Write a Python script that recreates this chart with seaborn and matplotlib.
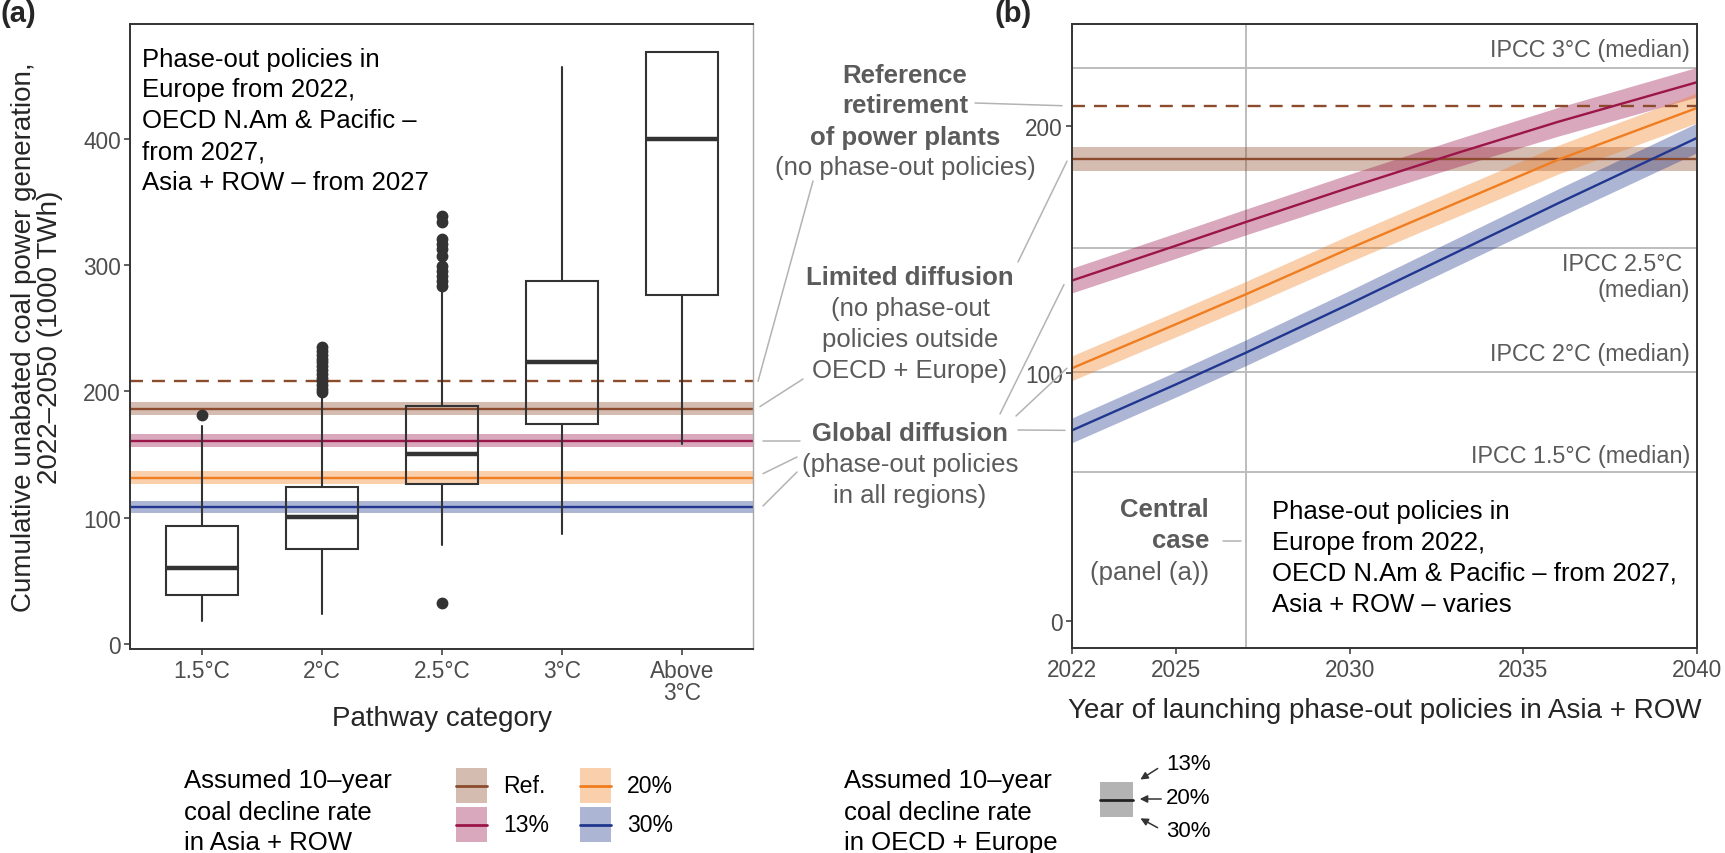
import numpy as np
import pandas as pd
import matplotlib
matplotlib.use("Agg")
import matplotlib.pyplot as plt
import seaborn as sns
from matplotlib.lines import Line2D
from matplotlib.patches import Rectangle, FancyArrowPatch

# ------------------------------------------------------------------ data
categories = ["1.5°C", "2°C", "2.5°C", "3°C", "Above\n3°C"]
box_whislo = [18.5, 23.8, 78.4, 87.0, 158.4]
box_q1 = [38.8, 75.2, 126.7, 174.3, 276.4]
box_med = [60.2, 100.3, 150.5, 223.1, 400.0]
box_q3 = [93.7, 124.1, 188.8, 287.8, 469.2]
box_whishi = [172.9, 196.5, 279.0, 456.8, 469.2]
outliers_15 = [181.6]
outliers_20 = [199.5, 202.0, 205.0, 208.0, 211.0, 214.0, 217.0, 220.0,
               223.0, 226.0, 229.0, 232.0, 235.5]
outliers_25 = [32.5, 283.8, 287.8, 291.8, 295.7, 299.7, 307.6, 312.9,
               316.8, 320.8, 334.5, 339.2]
outliers_30 = []
outliers_above = []

rate_labels = ["Ref.", "13%", "20%", "30%"]
central_value = [186.4, 161.1, 131.7, 108.5]   # panel (a), launch 2027
central_halfwidth = [4.9, 4.9, 4.9, 5.0]
ref_retirement = 208.0

years = [2022, 2025, 2027, 2030, 2033, 2036, 2040]
path_13 = [137.4, 151.5, 161.0, 175.0, 188.5, 201.5, 217.5]
path_20 = [102.0, 119.8, 131.8, 150.4, 168.3, 186.2, 207.1]
path_30 = [76.9, 95.5, 108.2, 128.0, 148.3, 168.6, 195.0]
path_halfwidth = [5.0, 5.1, 5.2, 5.4, 5.6, 5.8, 6.0]
central_year = 2027
ipcc_labels = ["IPCC 1.5°C (median)", "IPCC 2°C (median)",
               "IPCC 2.5°C\n(median)", "IPCC 3°C (median)"]

# ------------------------------------------------------------------ style
sns.set_theme(style="white")
plt.rcParams["font.family"] = ["Liberation Sans", "DejaVu Sans"]

rate_colors = ["#8c4b2c", "#9b1549", "#f07d1f", "#21378f"]
band_alpha = 0.37
dark = "#333333"
grey_txt = "#5b5b5b"
tick_col = "#4d4d4d"
conn_col = "#b3b3b3"
ref_line_col = "#bdbdbd"

W, H = 1725, 854
fig = plt.figure(figsize=(W / 100, H / 100), dpi=100)


def fax(l, t, r, b):
    return fig.add_axes([l / W, 1 - b / H, (r - l) / W, (b - t) / H])


def ftext(x, y, s, **kw):
    return fig.text(x / W, 1 - y / H, s, **kw)


def fline(x1, y1, x2, y2, **kw):
    fig.add_artist(Line2D([x1 / W, x2 / W], [1 - y1 / H, 1 - y2 / H],
                          transform=fig.transFigure, **kw))


def unit_spacing(l1, l2, size):
    """Pixel distance between baselines of two lines at linespacing 1."""
    r = fig.canvas.get_renderer()
    t1 = fig.text(0, 0, l1, fontsize=size)
    t2 = fig.text(0, 0, l1 + "\n" + l2, fontsize=size, linespacing=1.0)
    d = t2.get_window_extent(r).height - t1.get_window_extent(r).height
    t1.remove()
    t2.remove()
    return d


axa = fax(130, 25, 753, 650)
axb = fax(1072, 25, 1697, 649)

# ------------------------------------------------------------------ panel (a)
axa.set_xlim(-0.6, 4.59)
axa.set_ylim(-4, 491)
for val, hw, col in zip(central_value, central_halfwidth, rate_colors):
    axa.axhspan(val - hw, val + hw, color=col, alpha=band_alpha, lw=0, zorder=1)
    axa.axhline(val, color=col, lw=1.7, zorder=2)
axa.axhline(ref_retirement, color=rate_colors[0], lw=1.7, dashes=(5.5, 3.8), zorder=2)

fliers = [outliers_15, outliers_20, outliers_25, outliers_30, outliers_above]
stats = [dict(whislo=a, q1=b, med=c, q3=d, whishi=e, fliers=f, label=l)
         for a, b, c, d, e, f, l in zip(box_whislo, box_q1, box_med, box_q3,
                                         box_whishi, fliers, categories)]
axa.bxp(stats, positions=list(range(len(categories))), widths=0.6,
        showcaps=False, patch_artist=True, manage_ticks=False,
        boxprops=dict(facecolor="none", edgecolor=dark, linewidth=1.5),
        whiskerprops=dict(color=dark, linewidth=1.5),
        medianprops=dict(color=dark, linewidth=3.2),
        flierprops=dict(marker="o", markerfacecolor=dark, markeredgecolor=dark,
                        markersize=7.5),
        zorder=3)

tick_ls = 21.7 / unit_spacing("Above", "3°C", 16.3)
ylab_lines = ["Cumulative unabated coal power generation,", "2022\u20132050 (1000 TWh)"]
ylab_ls = 26.5 / unit_spacing(ylab_lines[0], ylab_lines[1], 20)

axa.set_xticks(range(len(categories)))
axa.set_xticklabels(categories, linespacing=tick_ls)
axa.set_yticks([0, 100, 200, 300, 400])
axa.set_xlabel("Pathway category", fontsize=20, labelpad=0.5)
axa.set_ylabel("\n".join(ylab_lines), fontsize=20, linespacing=ylab_ls)
axa.yaxis.set_label_coords((63.3 - 130) / 623, 0.5)

# ------------------------------------------------------------------ panel (b)
axb.set_xlim(2022, 2040)
axb.set_ylim(-11, 241)
for m in box_med[:4]:
    axb.axhline(m, color=ref_line_col, lw=1.4, zorder=0.5)
axb.axvline(central_year, color=ref_line_col, lw=1.4, zorder=0.5)

axb.axhspan(central_value[0] - central_halfwidth[0], central_value[0] + central_halfwidth[0],
            color=rate_colors[0], alpha=band_alpha, lw=0, zorder=1)
axb.axhline(central_value[0], color=rate_colors[0], lw=1.7, zorder=2)
axb.axhline(ref_retirement, color=rate_colors[0], lw=1.7, dashes=(5.5, 3.8), zorder=2)

df = pd.DataFrame({
    "year": years * 3,
    "value": path_13 + path_20 + path_30,
    "half": path_halfwidth * 3,
    "rate": ["13%"] * len(years) + ["20%"] * len(years) + ["30%"] * len(years),
})
pal = dict(zip(rate_labels[1:], rate_colors[1:]))
for r, g in df.groupby("rate"):
    axb.fill_between(g["year"], g["value"] - g["half"], g["value"] + g["half"],
                     color=pal[r], alpha=band_alpha, lw=0, zorder=1)
sns.lineplot(data=df, x="year", y="value", hue="rate", palette=pal, ax=axb,
             legend=False, lw=1.7, zorder=2)
axb.set_xticks([2022, 2025, 2030, 2035, 2040])
axb.set_yticks([0, 100, 200])
axb.set_xlabel("Year of launching phase-out policies in Asia + ROW", fontsize=20, labelpad=11)
axb.set_ylabel("")

# ------------------------------------------------------------------ axes styling
for ax in (axa, axb):
    for s in ax.spines.values():
        s.set_color(dark)
        s.set_linewidth(1.4)
    ax.tick_params(axis="both", which="major", direction="out", length=4.0,
                   width=1.1, color=dark, labelcolor=tick_col, labelsize=16.3,
                   bottom=True, left=True)
    ax.tick_params(axis="x", pad=3.5)
    ax.tick_params(axis="y", pad=2.5)
    ax.grid(False)
axa.spines["right"].set_color("#a8a8a8")
axa.spines["right"].set_linewidth(1.0)

# ------------------------------------------------------------------ texts
ftext(0, 22.5, "(a)", fontsize=21, fontweight="bold", ha="left", va="baseline")
ftext(995, 22.5, "(b)", fontsize=21, fontweight="bold", ha="left", va="baseline")

txt_a = ["Phase-out policies in", "Europe from 2022,", "OECD N.Am & Pacific \u2013",
         "from 2027,", "Asia + ROW \u2013 from 2027"]
for s, yb in zip(txt_a, [66.7, 97.5, 128.3, 159.3, 190.5]):
    ftext(142, yb, s, fontsize=18.5, color="black", ha="left", va="baseline")

txt_b = ["Phase-out policies in", "Europe from 2022,",
         "OECD N.Am & Pacific \u2013 from 2027,", "Asia + ROW \u2013 varies"]
for s, yb in zip(txt_b, [519, 550, 581, 612]):
    ftext(1272, yb, s, fontsize=18.5, color="black", ha="left", va="baseline")

grp1 = [("Reference", "bold"), ("retirement", "bold"), ("of power plants", "bold"),
        ("(no phase-out policies)", "normal")]
for (s, w), yb in zip(grp1, [82.7, 113.3, 144.5, 175.5]):
    ftext(905, yb, s, fontsize=18.5, color=grey_txt, fontweight=w, ha="center", va="baseline")
grp2 = [("Limited diffusion", "bold"), ("(no phase-out", "normal"),
        ("policies outside", "normal"), ("OECD + Europe)", "normal")]
for (s, w), yb in zip(grp2, [285, 316, 347, 378.3]):
    ftext(910, yb, s, fontsize=18.5, color=grey_txt, fontweight=w, ha="center", va="baseline")
grp3 = [("Global diffusion", "bold"), ("(phase-out policies", "normal"),
        ("in all regions)", "normal")]
for (s, w), yb in zip(grp3, [441, 472.5, 503.5]):
    ftext(910, yb, s, fontsize=18.5, color=grey_txt, fontweight=w, ha="center", va="baseline")
grp4 = [("Central", "bold"), ("case", "bold"), ("(panel (a))", "normal")]
for (s, w), yb in zip(grp4, [517, 548.5, 580]):
    ftext(1209, yb, s, fontsize=18.5, color=grey_txt, fontweight=w, ha="right", va="baseline")

ipcc_pos = [(1690, 463.3, ipcc_labels[0]), (1690, 360.7, ipcc_labels[1]),
            (1682, 270.7, ipcc_labels[2].split("\n")[0]),
            (1690, 297.3, ipcc_labels[2].split("\n")[1]),
            (1690, 57.3, ipcc_labels[3])]
for x, yb, s in ipcc_pos:
    ftext(x, yb, s, fontsize=16.8, color=grey_txt, ha="right", va="baseline")


# ------------------------------------------------------------------ connectors
def ypx(ax, v):
    return H - ax.transData.transform((ax.get_xlim()[0], v))[1]


ck = dict(color=conn_col, lw=1.1)
fline(975, 104, 1062, ypx(axb, ref_retirement), **ck)
fline(813, 182, 758, ypx(axa, ref_retirement), **ck)
fline(1018, 263, 1067, ypx(axb, central_value[0]) + 2, **ck)
fline(803, 380, 760, ypx(axa, central_value[0]) - 2, **ck)
fline(1018, 431, 1065, ypx(axb, path_30[0]), **ck)
fline(1016, 417, 1067, ypx(axb, path_20[0]), **ck)
fline(1000, 415, 1064, ypx(axb, path_13[0]) + 4, **ck)
fline(763, ypx(axa, central_value[1]), 800, ypx(axa, central_value[1]), **ck)
fline(763, ypx(axa, central_value[2]) - 4, 797, 458, **ck)
fline(763, ypx(axa, central_value[3]) - 1, 797, 473, **ck)
fline(1223, 542, 1241, 542, **ck)

# ------------------------------------------------------------------ legend (a)
leg_title = ["Assumed 10\u2013year", "coal decline rate", "in Asia + ROW"]
for s, yb in zip(leg_title, [788, 820.5, 850.5]):
    ftext(184, yb, s, fontsize=18.5, color="black", ha="left", va="baseline")
key_pos = [(456, 769), (456, 808), (580, 769), (580, 808)]
for (kx, ky), col, lab in zip(key_pos, rate_colors, rate_labels):
    fig.add_artist(Rectangle((kx / W, 1 - (ky + 35) / H), 31 / W, 35 / H,
                             transform=fig.transFigure, facecolor=col,
                             alpha=band_alpha, lw=0))
    fline(kx, ky + 17.5, kx + 31, ky + 17.5, color=col, lw=2.0)
    ftext(kx + 47, ky + 17.5, lab, fontsize=16.6, color="black", ha="left", va="center")

# ------------------------------------------------------------------ legend (b)
leg_title_b = ["Assumed 10\u2013year", "coal decline rate", "in OECD + Europe"]
for s, yb in zip(leg_title_b, [788, 820.5, 850.5]):
    ftext(844, yb, s, fontsize=18.5, color="black", ha="left", va="baseline")
fig.add_artist(Rectangle((1100 / W, 1 - 818 / H), 33 / W, 35 / H,
                         transform=fig.transFigure, facecolor="#b3b3b3", lw=0))
fline(1100, 800.5, 1133, 800.5, color="#222222", lw=2.0)
arrows = [((1160, 768), (1138, 782), "13%", 765),
          ((1164, 800), (1137, 800), "20%", 799),
          ((1160, 830), (1138, 818), "30%", 832)]
for (p0, p1, lab, ty) in arrows:
    fig.add_artist(FancyArrowPatch((p0[0] / W, 1 - p0[1] / H), (p1[0] / W, 1 - p1[1] / H),
                                   transform=fig.transFigure, arrowstyle="-|>",
                                   mutation_scale=11, color=dark, lw=1.1))
    ftext(1166, ty, lab, fontsize=16.0, color="black", ha="left", va="center")

fig.savefig("out.png", dpi=100)
